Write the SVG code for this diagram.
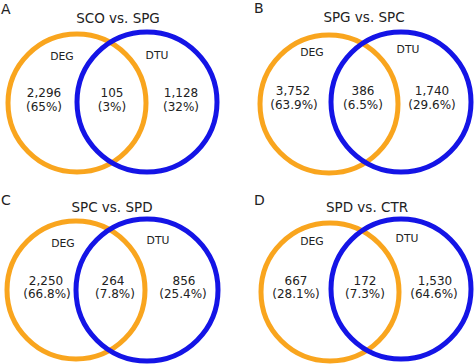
<svg xmlns="http://www.w3.org/2000/svg" width="474" height="364" viewBox="0 0 474 364">
<style>
text{font-family:"DejaVu Sans","Liberation Sans",sans-serif;fill:#222;text-anchor:middle}
.lab{font-size:14px;text-anchor:start}
.title{font-size:13.5px}
.set{font-size:10.8px}
.num{font-size:12px}
.deg{fill:none;stroke:#F9A51E;stroke-width:5}
.dtu{fill:none;stroke:#1414E6;stroke-width:5}
</style>
<rect width="474" height="364" fill="#fff"/>
<g id="panelA">
<text class="lab" x="1" y="14">A</text>
<text class="title" x="118" y="23">SCO vs. SPG</text>
<circle class="deg" cx="77" cy="103" r="69"/>
<circle class="dtu" cx="147" cy="102" r="70"/>
<text class="set" x="62" y="60">DEG</text>
<text class="set" x="157" y="59">DTU</text>
<text class="num" x="44" y="97">2,296</text><text class="num" x="44" y="111">(65%)</text>
<text class="num" x="112" y="97">105</text><text class="num" x="112" y="111">(3%)</text>
<text class="num" x="181" y="97">1,128</text><text class="num" x="181" y="111">(32%)</text>
</g>
<g id="panelB">
<text class="lab" x="254" y="13">B</text>
<text class="title" x="364" y="22">SPG vs. SPC</text>
<circle class="deg" cx="329" cy="104" r="69"/>
<circle class="dtu" cx="401" cy="102" r="70"/>
<text class="set" x="312" y="56">DEG</text>
<text class="set" x="408" y="53">DTU</text>
<text class="num" x="293" y="95">3,752</text><text class="num" x="294" y="109">(63.9%)</text>
<text class="num" x="363" y="95">386</text><text class="num" x="363" y="109">(6.5%)</text>
<text class="num" x="432" y="95">1,740</text><text class="num" x="432" y="109">(29.6%)</text>
</g>
<g id="panelC">
<text class="lab" x="1" y="205">C</text>
<text class="title" x="112" y="212">SPC vs. SPD</text>
<circle class="deg" cx="76" cy="290" r="69"/>
<circle class="dtu" cx="147" cy="290" r="71"/>
<text class="set" x="63" y="247">DEG</text>
<text class="set" x="158" y="244">DTU</text>
<text class="num" x="46" y="285">2,250</text><text class="num" x="47" y="298">(66.8%)</text>
<text class="num" x="113" y="285">264</text><text class="num" x="115" y="298">(7.8%)</text>
<text class="num" x="184" y="285">856</text><text class="num" x="183" y="298">(25.4%)</text>
</g>
<g id="panelD">
<text class="lab" x="254" y="205">D</text>
<text class="title" x="367" y="212">SPD vs. CTR</text>
<circle class="deg" cx="330" cy="292" r="69"/>
<circle class="dtu" cx="401" cy="289" r="70"/>
<text class="set" x="312" y="245">DEG</text>
<text class="set" x="407" y="242">DTU</text>
<text class="num" x="296" y="285">667</text><text class="num" x="296" y="298">(28.1%)</text>
<text class="num" x="365" y="285">172</text><text class="num" x="365" y="298">(7.3%)</text>
<text class="num" x="435" y="285">1,530</text><text class="num" x="434" y="298">(64.6%)</text>
</g>
</svg>
